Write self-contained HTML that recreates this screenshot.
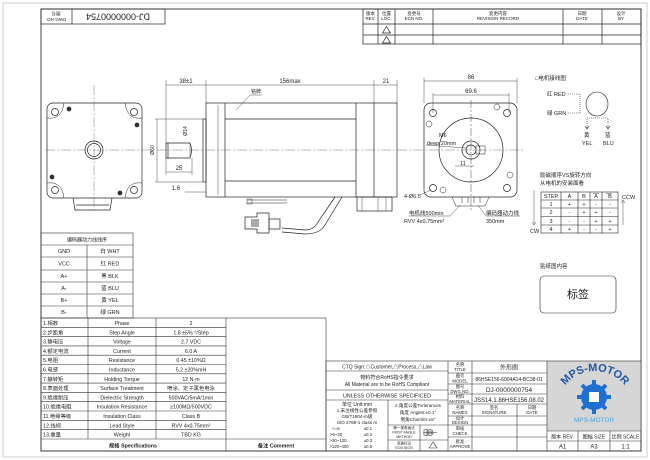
<!DOCTYPE html>
<html><head><meta charset="utf-8"><style>
html,body{margin:0;padding:0;background:#fff;}
svg{display:block;font-family:"Liberation Sans","Noto Sans CJK SC",sans-serif;}
</style></head><body>
<svg width="650" height="460" viewBox="0 0 650 460" xmlns="http://www.w3.org/2000/svg">
<g fill="none" stroke="#222" stroke-width="0.7">
<rect x="3" y="3" width="644" height="454" stroke="#aaa" stroke-width="0.6"/>
<rect x="41" y="9" width="600" height="442" stroke="#444" stroke-width="1"/>
<!-- DWG box -->
<rect x="41" y="9" width="124" height="15"/><line x1="72" y1="9" x2="72" y2="24"/>
<!-- revision table -->
<rect x="363" y="9" width="278" height="35"/>
<line x1="363" y1="24" x2="641" y2="24"/><line x1="363" y1="35" x2="641" y2="35"/>
<line x1="378" y1="9" x2="378" y2="44"/><line x1="395" y1="9" x2="395" y2="44"/>
<line x1="433" y1="9" x2="433" y2="44"/><line x1="563" y1="9" x2="563" y2="44"/><line x1="602" y1="9" x2="602" y2="44"/>
<path d="M382.5 33 L386.5 26.5 L390.5 33 Z M382.5 43 L386.5 36.5 L390.5 43 Z"/>
</g>
<g font-size="4.5" fill="#222" text-anchor="middle">
<text x="56" y="15" transform="rotate(180 56 16.5)">DWG.NO.</text>
<text x="56" y="21" transform="rotate(180 56 16.5)">图号</text>
<text x="118" y="20.5" font-size="9" transform="rotate(180 118 17)">DJ-0000000754</text>
<text x="370.5" y="15">版本</text><text x="370.5" y="20">REV.</text>
<text x="386.5" y="15">位置</text><text x="386.5" y="20">LOC.</text>
<text x="414" y="15">变更号</text><text x="414" y="20">ECN NO.</text>
<text x="498" y="15">变更内容</text><text x="498" y="20">REVISION RECORD</text>
<text x="582" y="15">日期</text><text x="582" y="20">DATE</text>
<text x="621" y="15">设计</text><text x="621" y="20">BY</text>
</g>

<!-- LEFT END VIEW -->
<g fill="none" stroke="#222" stroke-width="0.7">
<rect x="47" y="103" width="95" height="95" rx="6"/>
<path d="M73 198 L75 210 L110 210 L112 198" /><path d="M76 205 L109 205"/>
<circle cx="94" cy="150" r="9"/><circle cx="94" cy="150" r="6.5"/>
<g stroke-width="0.5">
<path d="M47 118 Q62 120 64 103"/><path d="M125 103 Q127 120 142 118"/><path d="M47 183 Q62 181 64 198"/><path d="M125 198 Q127 181 142 183"/>
</g>
<g><circle cx="55" cy="112" r="3.5"/><circle cx="134" cy="112" r="3.5"/><circle cx="55" cy="190" r="3.5"/><circle cx="134" cy="190" r="3.5"/></g>
<g stroke="#555" stroke-width="0.4" stroke-dasharray="10 2 2 2">
<line x1="94" y1="85" x2="94" y2="210"/><line x1="45" y1="150" x2="525" y2="150"/>
</g>
<g fill="#333"><circle cx="69" cy="109" r="2"/><circle cx="137" cy="125" r="2"/><circle cx="52" cy="177" r="2"/><circle cx="120" cy="193" r="2"/></g>
</g>

<!-- SIDE VIEW -->
<g fill="none" stroke="#222" stroke-width="0.7">
<rect x="206" y="103" width="191" height="94"/>
<line x1="225" y1="103" x2="225" y2="197"/><line x1="218" y1="105" x2="218" y2="195" stroke-width="0.4"/>
<line x1="356" y1="103" x2="356" y2="197"/><line x1="374" y1="103" x2="374" y2="197"/>
<line x1="225" y1="119" x2="356" y2="119"/><line x1="225" y1="181" x2="356" y2="181"/>
<rect x="203" y="119" width="3" height="63"/>
<path d="M166 143 L190 143 Q193 150 190 158 L166 158 Z"/><line x1="168" y1="143" x2="168" y2="158"/>
<!-- dims -->
<g stroke-width="0.4">
<line x1="166" y1="80" x2="166" y2="143"/><line x1="206" y1="80" x2="206" y2="103"/><line x1="374" y1="80" x2="374" y2="103"/><line x1="397" y1="80" x2="397" y2="103"/>
<line x1="166" y1="85" x2="397" y2="85"/>
<line x1="157" y1="119" x2="157" y2="182"/><line x1="155" y1="119" x2="203" y2="119"/><line x1="155" y1="182" x2="203" y2="182"/>
<line x1="190" y1="143" x2="190" y2="158"/>
<line x1="166" y1="172" x2="192" y2="172"/><line x1="192" y1="158" x2="192" y2="175"/><line x1="166" y1="158" x2="166" y2="175"/>
<line x1="185" y1="192" x2="206" y2="192"/>
<line x1="236" y1="110" x2="250" y2="95"/><line x1="250" y1="95" x2="262" y2="95"/>
</g>
<!-- cable -->
<rect x="357" y="197" width="35" height="14"/><path d="M362 197 v14 M378 197 v14 M386 197 v14" stroke-width="0.4"/>
<path d="M247 200 h40 M247 203 h40" stroke-width="0.5"/><rect x="247" y="199" width="5" height="5" stroke-width="0.4"/>
<path d="M335 197 L318 222 Q314 230 305 230 L282 228 M342 197 L325 225 Q320 234 305 234 L282 232"/>
<path d="M245 217 h12 v-4 h12 v20 h-12 v-4 h-12 z"/><rect x="269" y="219" width="11" height="10"/><rect x="251" y="219" width="8" height="8" fill="#aaa" stroke="none"/>
</g>
<g font-size="6" fill="#222" text-anchor="middle">
<text x="186" y="83">38±1</text><text x="290" y="83">156max</text><text x="386" y="83">21</text>
<text x="256" y="93" font-size="5">铭牌</text>
<text x="179" y="170">25</text><text x="176" y="190">1.6</text>
<text x="0" y="0" font-size="5" transform="translate(154 150) rotate(-90)">Ø60</text>
<text x="0" y="0" font-size="5" transform="translate(187 131) rotate(-90)">Ø14</text>
</g>

<!-- FRONT VIEW -->
<g fill="none" stroke="#222" stroke-width="0.7">
<rect x="424" y="103" width="93" height="94" rx="7"/>
<circle cx="471" cy="150" r="32"/><circle cx="471" cy="150" r="9"/><circle cx="471" cy="150" r="5"/>
<circle cx="433" cy="113" r="3.5"/><circle cx="507" cy="113" r="3.5"/><circle cx="433" cy="188" r="3.5"/><circle cx="507" cy="188" r="3.5"/>
<g stroke-width="0.5"><circle cx="497" cy="107" r="3"/><circle cx="429" cy="124" r="3"/><circle cx="510" cy="175" r="3"/><circle cx="443" cy="190" r="3"/></g>
<rect x="476" y="146" width="9" height="8" stroke-width="0.5"/>
<path d="M452 197 L456 206 L485 206 L489 197 M462 197 v6 M468 197 v6 M474 197 v6 M480 197 v6" stroke-width="0.5"/>
<g stroke-width="0.4">
<line x1="424" y1="78" x2="424" y2="103"/><line x1="517" y1="78" x2="517" y2="103"/><line x1="424" y1="81" x2="517" y2="81"/>
<line x1="433" y1="93" x2="433" y2="113"/><line x1="509" y1="93" x2="509" y2="113"/><line x1="433" y1="95" x2="509" y2="95"/>
<line x1="426" y1="145" x2="466" y2="148"/><line x1="471" y1="100" x2="471" y2="210" stroke-dasharray="8 2 2 2"/>
<line x1="455" y1="166" x2="474" y2="166"/>
<line x1="420" y1="195" x2="431" y2="190"/><line x1="409" y1="216" x2="450" y2="216"/><line x1="450" y1="216" x2="460" y2="205"/>
<line x1="486" y1="216" x2="478" y2="205"/><line x1="486" y1="216" x2="520" y2="216"/>
</g>
</g>
<g font-size="6" fill="#222">
<text x="471" y="79" text-anchor="middle">86</text><text x="471" y="93" text-anchor="middle">69.6</text>
<text x="439" y="137" font-size="5.5">M6</text><text x="427" y="145" font-size="5.5">deep 20mm</text>
<text x="460" y="165" font-size="5.5">11</text>
<text x="404" y="198" font-size="5.5">4-Ø6.5</text>
<text x="409" y="215" font-size="5.5">电机线500min</text><text x="404" y="223" font-size="5.5">RVV 4x0.75mm²</text>
<text x="486" y="215" font-size="5.5">编码器动力线</text><text x="486" y="223" font-size="5.5">350mm</text>
</g>

<!-- WIRING -->
<g fill="none" stroke="#222" stroke-width="0.6">
<ellipse cx="597" cy="104" rx="11" ry="12"/>
<path d="M568 94 h12 v19 h-12" stroke-dasharray="1 1"/>
<path d="M587 128 v-10 h21 v10" stroke-dasharray="1 1"/>
<path d="M585 126 l2 3 l2 -3 M606 126 l2 3 l2 -3"/>
<!-- step table -->
<rect x="541" y="192" width="77" height="41"/>
<path d="M541 200 h77 M541 208 h77 M541 216.5 h77 M541 225 h77 M561 192 v41 M578 192 v41 M590 192 v41 M602 192 v41"/>
<path d="M534 190 v35 M532 222 l2 3 l2 -3 M623 200 v25 M621 203 l2 -3 l2 3" stroke-width="0.4"/>
<rect x="540" y="276" width="76" height="37" rx="4"/>
</g>
<g font-size="5.5" fill="#222">
<text x="535" y="80">□电机接线图</text>
<text x="547" y="96">红 RED</text><text x="547" y="115">绿 GRN</text>
<text x="584" y="137">黄</text><text x="605" y="137">蓝</text><text x="582" y="145">YEL</text><text x="603" y="145">BLU</text>
<text x="540" y="177">励磁顺序VS旋转方向</text><text x="540" y="185">从电机的安装面看</text>
<text x="530" y="233">CW</text><text x="622" y="199">CCW</text>
<text x="540" y="268">贴纸图内容</text>
<text x="578" y="298" font-size="11" text-anchor="middle">标签</text>
<g text-anchor="middle">
<text x="551" y="198">STEP</text><text x="569.5" y="198">A</text><text x="584" y="198">B</text><text x="596" y="198">A</text><text x="610" y="198">B</text>
<text x="551" y="206">1</text><text x="569.5" y="206">+</text><text x="584" y="206">+</text><text x="596" y="206">-</text><text x="610" y="206">-</text>
<text x="551" y="214">2</text><text x="569.5" y="214">-</text><text x="584" y="214">+</text><text x="596" y="214">+</text><text x="610" y="214">-</text>
<text x="551" y="223">3</text><text x="569.5" y="223">-</text><text x="584" y="223">-</text><text x="596" y="223">+</text><text x="610" y="223">+</text>
<text x="551" y="231">4</text><text x="569.5" y="231">+</text><text x="584" y="231">-</text><text x="596" y="231">-</text><text x="610" y="231">+</text>
</g>
<path d="M593 193.5 h6 M606 193.5 h6" stroke="#222" stroke-width="0.4"/>
</g>

<!-- WIRE TABLE -->
<g fill="none" stroke="#333" stroke-width="0.6">
<rect x="41" y="233" width="92" height="85"/>
<path d="M41 245 h92 M41 257 h92 M41 270 h92 M41 282 h92 M41 294 h92 M41 306 h92 M87 245 v73"/>
</g>
<g font-size="5.5" fill="#222" text-anchor="middle">
<text x="87" y="241.5" font-size="5">编码器动力线线序</text>
<text x="64" y="253">GND</text><text x="110" y="253">白 WHT</text>
<text x="64" y="265.5">VCC</text><text x="110" y="265.5">红 RED</text>
<text x="64" y="278">A+</text><text x="110" y="278">黑 BLK</text>
<text x="64" y="290">A-</text><text x="110" y="290">蓝 BLU</text>
<text x="64" y="302">B+</text><text x="110" y="302">黄 YEL</text>
<text x="64" y="314">B-</text><text x="110" y="314">绿 GRN</text>
</g>

<!-- SPEC TABLE -->
<g fill="none" stroke="#333" stroke-width="0.6">
<rect x="41" y="318" width="285" height="133"/>
<path d="M41 439 h285 M226 318 v133 M88 318 v121 M156 318 v121"/>
<path d="M41 327.3 h185 M41 336.6 h185 M41 345.9 h185 M41 355.2 h185 M41 364.5 h185 M41 373.8 h185 M41 383.1 h185 M41 392.4 h185 M41 401.7 h185 M41 411 h185 M41 420.3 h185 M41 429.6 h185"/>
</g>
<g font-size="5.3" fill="#222">
<g>
<text x="43" y="325">1.相数</text><text x="43" y="334.3">2.步距角</text><text x="43" y="343.6">3.静电压</text><text x="43" y="352.9">4.额定电流</text><text x="43" y="362.2">5.电阻</text><text x="43" y="371.5">6.电感</text><text x="43" y="380.8">7.静转矩</text><text x="43" y="390.1">8.表面处理</text><text x="43" y="399.4">9.绝缘耐压</text><text x="43" y="408.7">10.绝缘电阻</text><text x="43" y="418">11.绝缘等级</text><text x="43" y="427.3">12.线规</text><text x="43" y="436.6">13.重量</text>
</g>
<g text-anchor="middle">
<text x="122" y="325">Phase</text><text x="122" y="334.3">Step Angle</text><text x="122" y="343.6">Voltage</text><text x="122" y="352.9">Current</text><text x="122" y="362.2">Resistance</text><text x="122" y="371.5">Inductance</text><text x="122" y="380.8">Holding Torque</text><text x="122" y="390.1">Surface Treatment</text><text x="122" y="399.4">Dielectric Strength</text><text x="122" y="408.7">Insulation Resistance</text><text x="122" y="418">Insulation Class</text><text x="122" y="427.3">Lead Style</text><text x="122" y="436.6">Weight</text>
<text x="191" y="325">2</text><text x="191" y="334.3">1.8 ±5% °/Step</text><text x="191" y="343.6">2.7 VDC</text><text x="191" y="352.9">6.0 A</text><text x="191" y="362.2">0.45 ±10%Ω</text><text x="191" y="371.5">5.2 ±20%mH</text><text x="191" y="380.8">12 N·m</text><text x="191" y="390.1">喷涂、定子黑色电泳</text><text x="191" y="399.4">500VAC/5mA/1min</text><text x="191" y="408.7">≥100MΩ/500VDC</text><text x="191" y="418">Class B</text><text x="191" y="427.3">RVV 4x0.75mm²</text><text x="191" y="436.6">TBD KG</text>
<text x="133" y="447.5" font-weight="bold">规格 Specifications</text>
<text x="276" y="447.5" font-weight="bold">备注 Comment</text>
</g>
</g>

<!-- TITLE BLOCK -->
<rect x="547" y="361" width="94" height="70" fill="#d6d6d6"/>
<g fill="none" stroke="#333" stroke-width="0.6">
<rect x="326" y="361" width="315" height="90"/>
<path d="M326 371 h122 M326 390 h122 M326 400 h122 M388 400 v51 M388 425 h60 M388 440 h60 M420 425 v26"/>
<path d="M448 361 v90 M472 361 v90 M547 361 v90"/>
<path d="M448 373 h99 M448 384 h99 M448 394 h99 M448 404 h99 M448 416 h99 M448 425 h99 M448 437 h99 M517 404 v47"/>
<path d="M547 431 h94 M547 441 h94 M578 431 v20 M610 431 v20"/>
<circle cx="430" cy="432.5" r="3"/><circle cx="430" cy="432.5" r="1.5"/><path d="M423 432.5 h14 M424 430 l3 -1 v7 l-3 -1 z"/>
<path d="M429 448 l4 -6 l4 6 z"/>
</g>
<g font-size="4.3" fill="#222" text-anchor="middle">
<text x="387" y="368.5" font-size="5">CTQ Sign:△Customer,△Process,△Law</text>
<text x="387" y="379" font-size="5">物料符合RoHS指令要求</text>
<text x="387" y="386" font-size="5">All Material are to be RoHS Compliant</text>
<text x="387" y="397.5" font-size="5.3">UNLESS OTHERWISE SPECIFICED</text>
<text x="357" y="406" font-size="5">单位 Unit:mm</text>
<text x="357" y="412" font-size="4.6">1.未注线性公差参照</text>
<text x="357" y="418" font-size="4.6">GB/T1804-m级</text>
<text x="357" y="424" font-size="4.6">ISO 2768-1 class m</text>
<text x="336" y="430">&lt;=6</text><text x="368" y="430">±0.1</text>
<text x="336" y="436">&gt;6~30</text><text x="368" y="436">±0.2</text>
<text x="338" y="442">&gt;30~120</text><text x="368" y="442">±0.3</text>
<text x="339" y="448">&gt;120~400</text><text x="368" y="448">±0.5</text>
<text x="418" y="407" font-size="4.6">2.角度公差Torlerances</text>
<text x="418" y="414" font-size="4.6">角度 Angles:±0.1°</text>
<text x="418" y="421" font-size="4.6">倒角Chamfer:±5°</text>
<text x="404" y="429" font-size="3.6">第一视角画法</text><text x="404" y="433.5" font-size="3.6">FIRST ANGLE</text><text x="404" y="438" font-size="3.6">METHOD</text>
<text x="404" y="444.5" font-size="3.6">变更标识</text><text x="404" y="449" font-size="3.6">ECN SIGN</text>
<text x="460" y="366">名称</text><text x="460" y="371">TITLE</text>
<text x="460" y="377.5">图号</text><text x="460" y="382.5">MODEL</text>
<text x="460" y="388">图号</text><text x="460" y="393">DWG.NO.</text>
<text x="460" y="398">材料</text><text x="460" y="403">MATERIAL</text>
<text x="460" y="409">名称</text><text x="460" y="414">NAMES</text>
<text x="460" y="419.5">设计</text><text x="460" y="424">DESIGN</text>
<text x="460" y="430">审核</text><text x="460" y="435">CHECK</text>
<text x="460" y="443">批准</text><text x="460" y="448">APPROVE</text>
<text x="494" y="409">签名</text><text x="494" y="414">SIGNATURE</text>
<text x="532" y="409">日期</text><text x="532" y="414">DATE</text>
<text x="509" y="369.5" font-size="6">外形图</text>
<text x="509" y="381" font-size="5">86HSE156-6004A14-BC38-01</text>
<text x="509" y="392" font-size="6.5">DJ-0000000754</text>
<text x="509" y="402" font-size="6">JSS14.1.86HSE156.08.02</text>
<text x="562.5" y="438.5" font-size="5">版本 REV.</text><text x="594" y="438.5" font-size="5">图幅 SIZE</text><text x="625.5" y="438.5" font-size="5">比例 SCALE</text>
<text x="562.5" y="448.5" font-size="6">A1</text><text x="594" y="448.5" font-size="6">A3</text><text x="625.5" y="448.5" font-size="6">1:1</text>
</g>
<!-- logo -->
<defs><path id="arc" d="M560 402 A34 30 0 0 1 630 402"/></defs>
<text font-size="11" font-weight="bold" fill="#2457a6" font-family="Liberation Sans, sans-serif"><textPath href="#arc" startOffset="50%" text-anchor="middle">MPS-MOTOR</textPath></text>
<g fill="#1f6fd0">
<circle cx="594" cy="397" r="13"/>
<g stroke="#1f6fd0" stroke-width="4">
<line x1="594" y1="380" x2="594" y2="414"/><line x1="577" y1="397" x2="611" y2="397"/>
<line x1="582" y1="385" x2="606" y2="409"/><line x1="606" y1="385" x2="582" y2="409"/>
</g>
</g>
<rect x="589" y="392" width="10" height="10" fill="#fff"/>
<text x="594" y="422" font-size="6.5" fill="#4aa6e0" text-anchor="middle">MPS-MOTOR</text>
</svg>
</body></html>
